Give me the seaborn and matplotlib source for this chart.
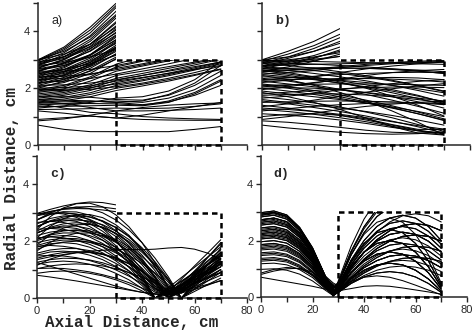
import matplotlib
matplotlib.use("Agg")
import matplotlib.pyplot as plt
import pandas as pd
import seaborn as sns
from matplotlib.patches import Polygon
from matplotlib.ticker import MultipleLocator

# ---------------- data ----------------
X_A = [0, 10, 20, 30, 40, 50, 60, 70]
A_LINES = [
    [3.00, 3.45, 4.15, 5.00], [2.95, 3.35, 3.95, 4.85], [2.90, 3.25, 3.85, 4.72],
    [3.00, 3.30, 3.80, 4.60], [2.80, 3.10, 3.65, 4.48], [2.88, 3.12, 3.55, 4.30],
    [2.70, 3.00, 3.48, 4.20], [2.92, 3.10, 3.45, 4.05], [2.60, 2.88, 3.32, 3.98],
    [2.76, 2.95, 3.30, 3.88], [2.50, 2.76, 3.18, 3.80], [2.62, 2.80, 3.15, 3.72],
    [2.40, 2.66, 3.06, 3.66], [2.66, 2.80, 3.10, 3.58], [2.30, 2.56, 2.92, 3.52],
    [2.50, 2.66, 2.96, 3.46], [2.20, 2.46, 2.82, 3.40], [2.80, 2.90, 3.10, 3.36],
    [2.36, 2.52, 2.82, 3.30], [2.10, 2.32, 2.70, 3.22], [2.55, 2.66, 2.86, 3.16],
    [2.00, 2.25, 2.62, 3.10], [2.45, 2.58, 2.90, 3.42], [2.85, 3.05, 3.40, 3.95],
    [2.15, 2.38, 2.78, 3.35], [2.25, 2.44, 2.76, 3.20], [2.05, 2.20, 2.52, 3.05],
    [2.98, 3.40, 4.05, 4.92], [2.82, 3.18, 3.72, 4.55], [2.72, 3.02, 3.55, 4.35],
    [2.58, 2.90, 3.38, 4.10], [2.45, 2.72, 3.18, 3.85], [2.35, 2.60, 3.00, 3.62],
    [2.28, 2.48, 2.85, 3.45], [2.68, 2.85, 3.18, 3.70], [3.00, 3.20, 3.55, 4.15],
    [2.18, 2.30, 2.60, 3.02],
    [1.95, 2.10, 2.40, 2.85, 3.10], [1.90, 2.05, 2.35, 2.75, 2.95, 3.15],
    [2.30, 2.35, 2.48, 2.70, 2.86, 3.04], [1.85, 1.98, 2.25, 2.60, 2.78, 2.96, 3.15],
    [2.20, 2.25, 2.34, 2.50, 2.68, 2.86, 3.05],
    [1.80, 1.90, 2.12, 2.45, 2.60, 2.76, 2.92, 3.08],
    [1.75, 1.85, 2.06, 2.35, 2.52, 2.70, 2.88, 3.05],
    [2.10, 2.12, 2.18, 2.30, 2.45, 2.60, 2.76, 2.92],
    [1.65, 1.75, 1.92, 2.20, 2.36, 2.53, 2.72, 2.93],
    [1.60, 1.68, 1.84, 2.10, 2.26, 2.44, 2.64, 2.86],
    [1.90, 1.92, 1.96, 2.05, 2.18, 2.35, 2.55, 2.78],
    [1.55, 1.62, 1.78, 2.00, 2.14, 2.30, 2.48, 2.68],
    [2.00, 2.02, 2.08, 2.25, 2.38, 2.52, 2.66, 2.80],
    [1.70, 1.80, 2.00, 2.28, 2.45, 2.63, 2.82, 3.02],
    [2.40, 2.42, 2.50, 2.65, 2.82, 3.00],
    [1.50, 1.56, 1.70, 1.92, 2.08, 2.25, 2.45, 2.66],
    [2.60, 2.60, 2.66, 2.80, 2.98],
    [1.95, 1.96, 2.02, 2.15, 2.30, 2.48, 2.68, 2.90],
    [1.50, 1.52, 1.55, 1.50, 1.42, 1.52, 1.75, 2.10],
    [1.45, 1.45, 1.46, 1.45, 1.40, 1.55, 1.85, 2.30],
    [1.40, 1.46, 1.52, 1.55, 1.50, 1.65, 1.95, 2.45],
    [1.70, 1.70, 1.68, 1.60, 1.58, 1.75, 2.10, 2.60],
    [1.35, 1.36, 1.38, 1.40, 1.38, 1.50, 1.80, 2.25],
    [1.60, 1.58, 1.55, 1.50, 1.55, 1.78, 2.18, 2.80],
    [1.30, 1.38, 1.50, 1.65, 1.70, 1.90, 2.30, 2.95],
    [1.25, 1.26, 1.28, 1.30, 1.28, 1.30, 1.36, 1.45],
    [1.55, 1.45, 1.32, 1.20, 1.20, 1.22, 1.25, 1.30],
    [1.45, 1.30, 1.15, 1.10, 1.00, 0.95, 0.92, 0.90],
    [0.90, 0.96, 1.02, 0.95, 1.05, 1.20, 1.35, 1.50],
    [0.85, 0.92, 1.05, 1.20, 1.32, 1.40, 1.45, 1.48],
    [1.20, 1.12, 1.02, 0.95, 0.90, 0.88, 0.87, 0.87],
    [0.70, 0.55, 0.47, 0.47, 0.47, 0.47, 0.55, 0.65],
]

X_B = [0, 10, 20, 30, 40, 50, 60, 70]
B_LINES = [
    [3.00, 3.30, 3.65, 4.10], [2.95, 3.20, 3.50, 3.90], [2.90, 3.10, 3.40, 3.78],
    [2.85, 3.05, 3.30, 3.65], [3.00, 3.10, 3.30, 3.58], [2.80, 2.95, 3.15, 3.45],
    [2.70, 2.85, 3.05, 3.35], [2.95, 3.00, 3.10, 3.25], [2.60, 2.75, 2.95, 3.20],
    [2.75, 2.85, 2.98, 3.12], [2.92, 2.95, 3.02, 3.12], [2.78, 2.90, 3.08, 3.30],
    [2.90, 2.88, 2.85, 2.80, 2.75, 2.68, 2.60, 2.52],
    [2.80, 2.82, 2.84, 2.86, 2.88, 2.90, 2.92, 2.94],
    [2.70, 2.62, 2.52, 2.40, 2.26, 2.10, 1.92, 1.72],
    [2.60, 2.65, 2.68, 2.70, 2.70, 2.68, 2.64, 2.58],
    [2.55, 2.45, 2.32, 2.18, 2.02, 1.84, 1.64, 1.42],
    [2.50, 2.55, 2.62, 2.72, 2.80, 2.86, 2.90, 2.92],
    [2.40, 2.38, 2.34, 2.28, 2.20, 2.10, 1.98, 1.84],
    [2.35, 2.25, 2.12, 1.96, 1.78, 1.58, 1.36, 1.12],
    [2.30, 2.36, 2.42, 2.48, 2.52, 2.55, 2.56, 2.55],
    [2.25, 2.15, 2.05, 1.95, 1.85, 1.75, 1.65, 1.55],
    [2.20, 2.28, 2.40, 2.55, 2.68, 2.78, 2.86, 2.92],
    [2.15, 2.05, 1.92, 1.76, 1.58, 1.38, 1.16, 0.92],
    [2.10, 2.12, 2.14, 2.15, 2.15, 2.14, 2.12, 2.10],
    [2.00, 1.90, 1.78, 1.64, 1.48, 1.30, 1.10, 0.88],
    [1.95, 2.05, 2.18, 2.32, 2.45, 2.55, 2.62, 2.66],
    [1.90, 1.80, 1.70, 1.60, 1.48, 1.34, 1.18, 1.00],
    [1.80, 1.86, 1.92, 1.98, 2.02, 2.04, 2.04, 2.02],
    [1.70, 1.60, 1.48, 1.34, 1.16, 0.96, 0.72, 0.48],
    [1.65, 1.72, 1.82, 1.94, 2.06, 2.16, 2.24, 2.30],
    [1.60, 1.50, 1.40, 1.30, 1.18, 1.04, 0.88, 0.70],
    [1.50, 1.52, 1.54, 1.55, 1.54, 1.52, 1.48, 1.42],
    [1.40, 1.30, 1.18, 1.04, 0.88, 0.70, 0.52, 0.40],
    [1.35, 1.45, 1.58, 1.72, 1.86, 1.98, 2.08, 2.16],
    [1.30, 1.25, 1.18, 1.08, 0.96, 0.82, 0.68, 0.56],
    [1.20, 1.28, 1.36, 1.42, 1.46, 1.48, 1.48, 1.46],
    [1.10, 1.05, 0.98, 0.88, 0.76, 0.62, 0.50, 0.42],
    [0.90, 1.00, 1.12, 1.25, 1.36, 1.44, 1.50, 1.54],
    [0.85, 0.80, 0.72, 0.62, 0.52, 0.45, 0.42, 0.45],
    [0.70, 0.60, 0.52, 0.45, 0.40, 0.38, 0.40, 0.46],
    [2.45, 2.30, 2.10, 1.85, 1.55, 1.20, 0.80, 0.35],
    [2.65, 2.55, 2.40, 2.22, 2.00, 1.72, 1.40, 1.02],
    [2.75, 2.70, 2.62, 2.52, 2.40, 2.25, 2.08, 1.88],
    [1.85, 1.70, 1.50, 1.25, 0.95, 0.65, 0.42, 0.35],
    [1.00, 1.08, 1.10, 1.05, 0.92, 0.72, 0.55, 0.55],
    [2.98, 2.96, 2.94, 2.92, 2.90, 2.88, 2.86, 2.84],
    [2.62, 2.50, 2.38, 2.26, 2.12, 1.95, 1.75, 1.50],
    [2.05, 2.10, 2.20, 2.30, 2.36, 2.38, 2.36, 2.30],
    [2.88, 2.80, 2.70, 2.58, 2.44, 2.28, 2.10, 1.90],
    [2.68, 2.70, 2.72, 2.72, 2.70, 2.66, 2.60, 2.52],
    [2.48, 2.40, 2.30, 2.18, 2.05, 1.90, 1.72, 1.52],
    [2.28, 2.30, 2.32, 2.34, 2.34, 2.32, 2.28, 2.22],
    [2.12, 2.00, 1.86, 1.70, 1.52, 1.32, 1.10, 0.86],
    [1.75, 1.78, 1.80, 1.80, 1.76, 1.70, 1.60, 1.48],
    [1.55, 1.45, 1.32, 1.18, 1.02, 0.84, 0.64, 0.42],
    [2.58, 2.62, 2.68, 2.76, 2.84, 2.90, 2.95, 2.98],
    [1.25, 1.18, 1.08, 0.96, 0.82, 0.66, 0.50, 0.36],
    [2.00, 2.02, 2.00, 1.94, 1.84, 1.70, 1.52, 1.30],
]

X_C = [0, 5, 10, 15, 20, 25, 30, 35, 40, 45, 50, 55, 60, 65, 70]
C_LINES = [
    [2.98, 3.12, 3.24, 3.33, 3.38, 3.36, 3.28],
    [2.90, 3.04, 3.14, 3.20, 3.22, 3.20, 3.14],
    [2.95, 3.05, 3.12, 3.15, 3.14, 3.10, 3.04],
    [2.41, 2.86, 3.17, 3.32, 3.34, 3.21, 2.93, 2.51, 1.95, 1.24, 0.38, 0.20, 0.53, 0.86, 1.20],
    [2.75, 3.00, 3.15, 3.20, 3.15, 3.00, 2.75, 2.40, 1.95, 1.40, 0.75, 0.00, 0.46, 0.94, 1.40],
    [2.75, 2.95, 3.04, 3.03, 2.92, 2.69, 2.37, 1.93, 1.39, 0.75, 0.00, 0.43, 0.85, 1.28, 1.70],
    [2.75, 2.94, 3.00, 2.94, 2.75, 2.45, 2.02, 1.47, 0.80, 0.00, 0.30, 0.60, 0.90, 1.20, 1.50],
    [2.96, 3.00, 2.96, 2.84, 2.63, 2.35, 1.99, 1.54, 1.01, 0.41, 0.21, 0.66, 1.13, 1.58, 2.05],
    [2.49, 2.72, 2.85, 2.90, 2.85, 2.72, 2.49, 2.18, 1.77, 1.27, 0.68, 0.00, 0.40, 0.80, 1.20],
    [2.12, 2.52, 2.79, 2.93, 2.94, 2.83, 2.58, 2.21, 1.71, 1.09, 0.34, 0.27, 0.70, 1.15, 1.60],
    [2.52, 2.70, 2.79, 2.78, 2.68, 2.47, 2.17, 1.78, 1.28, 0.69, 0.00, 0.35, 0.70, 1.05, 1.40],
    [2.52, 2.70, 2.75, 2.70, 2.52, 2.24, 1.85, 1.35, 0.73, 0.00, 0.22, 0.44, 0.66, 0.88, 1.10],
    [2.66, 2.70, 2.66, 2.55, 2.37, 2.12, 1.79, 1.39, 0.91, 0.36, 0.15, 0.48, 0.83, 1.16, 1.50],
    [2.28, 2.49, 2.61, 2.65, 2.61, 2.49, 2.28, 1.99, 1.61, 1.16, 0.62, 0.00, 0.58, 1.17, 1.75],
    [1.87, 2.22, 2.46, 2.58, 2.59, 2.49, 2.28, 1.95, 1.51, 0.96, 0.30, 0.17, 0.44, 0.72, 1.00],
    [2.30, 2.46, 2.54, 2.53, 2.44, 2.25, 1.98, 1.62, 1.17, 0.63, 0.00, 0.33, 0.65, 0.98, 1.30],
    [2.30, 2.45, 2.50, 2.45, 2.30, 2.04, 1.68, 1.23, 0.66, 0.00, 0.36, 0.72, 1.08, 1.44, 1.80],
    [2.42, 2.45, 2.42, 2.32, 2.15, 1.92, 1.62, 1.26, 0.83, 0.33, 0.13, 0.42, 0.72, 1.00, 1.30],
    [2.06, 2.25, 2.36, 2.40, 2.36, 2.25, 2.06, 1.80, 1.46, 1.05, 0.56, 0.00, 0.30, 0.60, 0.90],
    [2.07, 2.22, 2.29, 2.29, 2.20, 2.03, 1.78, 1.46, 1.05, 0.57, 0.00, 0.40, 0.80, 1.20, 1.60],
    [1.66, 1.96, 2.17, 2.28, 2.29, 2.20, 2.01, 1.73, 1.34, 0.85, 0.26, 0.23, 0.59, 0.97, 1.35],
    [2.02, 2.16, 2.20, 2.16, 2.02, 1.80, 1.48, 1.08, 0.58, 0.00, 0.24, 0.48, 0.72, 0.96, 1.20],
    [2.12, 2.15, 2.12, 2.03, 1.89, 1.69, 1.42, 1.10, 0.72, 0.29, 0.17, 0.54, 0.94, 1.31, 1.70],
    [1.85, 1.98, 2.04, 2.04, 1.96, 1.81, 1.59, 1.30, 0.94, 0.50, 0.00, 0.25, 0.50, 0.75, 1.00],
    [1.72, 1.88, 1.97, 2.00, 1.97, 1.88, 1.72, 1.50, 1.22, 0.88, 0.47, 0.00, 0.50, 1.00, 1.50],
    [1.79, 1.91, 1.95, 1.91, 1.79, 1.59, 1.31, 0.96, 0.52, 0.00, 0.29, 0.58, 0.87, 1.16, 1.45],
    [1.82, 1.85, 1.82, 1.75, 1.62, 1.45, 1.22, 0.95, 0.62, 0.25, 0.11, 0.35, 0.61, 0.85, 1.10],
    [1.58, 1.69, 1.74, 1.74, 1.67, 1.55, 1.36, 1.11, 0.80, 0.43, 0.00, 0.39, 0.78, 1.16, 1.55],
    [1.51, 1.62, 1.65, 1.62, 1.51, 1.35, 1.11, 0.81, 0.44, 0.00, 0.18, 0.36, 0.54, 0.72, 0.90],
    [1.15, 1.37, 1.51, 1.59, 1.60, 1.53, 1.40, 1.20, 0.93, 0.59, 0.18, 0.21, 0.55, 0.90, 1.25],
    [1.48, 1.50, 1.48, 1.42, 1.32, 1.18, 0.99, 0.77, 0.51, 0.20, 0.14, 0.45, 0.77, 1.08, 1.40],
    [1.26, 1.35, 1.40, 1.39, 1.34, 1.24, 1.09, 0.89, 0.64, 0.34, 0.00, 0.20, 0.40, 0.60, 0.80],
    [1.19, 1.27, 1.30, 1.27, 1.19, 1.06, 0.87, 0.64, 0.34, 0.00, 0.24, 0.48, 0.72, 0.96, 1.20],
    [1.03, 1.13, 1.18, 1.20, 1.18, 1.13, 1.03, 0.90, 0.73, 0.53, 0.28, 0.00, 0.23, 0.47, 0.70],
    [1.04, 1.05, 1.04, 0.99, 0.92, 0.82, 0.70, 0.54, 0.35, 0.14, 0.09, 0.29, 0.50, 0.69, 0.90],
    [0.87, 0.93, 0.95, 0.93, 0.87, 0.78, 0.64, 0.47, 0.25, 0.00, 0.12, 0.24, 0.36, 0.48, 0.60],
    [0.80, 0.74, 0.67, 0.60, 0.52, 0.44, 0.36, 0.28, 0.20, 0.14, 0.12, 0.18, 0.30, 0.45, 0.62],
    [1.25, 1.12, 0.98, 0.84, 0.70, 0.56, 0.42, 0.30, 0.20, 0.14, 0.16, 0.30, 0.52, 0.80, 1.10],
    [1.35, 1.45, 1.53, 1.60, 1.65, 1.68, 1.70, 1.71, 1.70, 1.72, 1.76, 1.78, 1.72, 1.58, 1.35],
    [2.61, 2.80, 2.89, 2.88, 2.77, 2.56, 2.25, 1.84, 1.33, 0.71, 0.00, 0.48, 0.95, 1.43, 1.90],
    [2.36, 2.58, 2.71, 2.75, 2.71, 2.58, 2.36, 2.06, 1.67, 1.20, 0.64, 0.00, 0.33, 0.67, 1.00],
    [2.90, 2.98, 3.00, 2.96, 2.86, 2.70, 2.48, 2.16, 1.70, 1.10, 0.40, 0.32, 0.88, 1.42, 1.95],
    [2.20, 2.32, 2.38, 2.38, 2.31, 2.17, 1.96, 1.66, 1.26, 0.76, 0.18, 0.32, 0.75, 1.18, 1.62],
    [1.95, 2.05, 2.10, 2.09, 2.02, 1.88, 1.66, 1.36, 0.98, 0.52, 0.05, 0.30, 0.62, 0.95, 1.28],
    [1.40, 1.52, 1.60, 1.63, 1.62, 1.55, 1.42, 1.22, 0.96, 0.62, 0.22, 0.18, 0.52, 0.88, 1.22],
]

X_D = [0, 5, 10, 15, 20, 25, 28, 30, 35, 40, 45, 50, 55, 60, 65, 70]
D_LINES = [
    [2.99, 3.05, 2.91, 2.47, 1.75, 0.74, 0.05, 0.57, 1.80, 2.76, 3.45],
    [2.94, 3.00, 2.86, 2.43, 1.72, 0.73, 0.10, 0.50, 1.58, 2.42, 3.02],
    [2.84, 2.90, 2.76, 2.35, 1.66, 0.70, 0.30, 0.47, 1.49, 2.28, 2.85, 3.19],
    [2.74, 2.80, 2.67, 2.27, 1.61, 0.68, 0.12, 0.36, 1.15, 1.80, 2.30, 2.66, 2.88, 2.95, 2.88, 2.66],
    [2.65, 2.70, 2.57, 2.19, 1.55, 0.66, 0.06, 0.41, 1.31, 2.00, 2.50, 2.80, 2.90, 2.80, 2.50, 2.00],
    [2.94, 3.00, 2.86, 2.43, 1.72, 0.73, 0.40, 0.49, 1.50, 2.22, 2.65, 2.80, 2.65, 2.22, 1.50, 0.49],
    [2.55, 2.60, 2.48, 2.11, 1.49, 0.63, 0.04, 0.39, 1.22, 1.87, 2.33, 2.61, 2.70, 2.61, 2.33, 1.87],
    [2.45, 2.50, 2.38, 2.03, 1.44, 0.61, 0.10, 0.31, 1.01, 1.58, 2.03, 2.35, 2.54, 2.60, 2.54, 2.35],
    [2.35, 2.40, 2.29, 1.94, 1.38, 0.58, 0.07, 0.36, 1.13, 1.73, 2.16, 2.42, 2.50, 2.42, 2.16, 1.73],
    [2.84, 2.90, 2.76, 2.35, 1.66, 0.70, 0.35, 0.42, 1.28, 1.90, 2.28, 2.40, 2.28, 1.90, 1.28, 0.42],
    [2.25, 2.30, 2.19, 1.86, 1.32, 0.56, 0.05, 0.33, 1.04, 1.59, 1.98, 2.22, 2.30, 2.22, 1.98, 1.59],
    [2.16, 2.20, 2.10, 1.78, 1.26, 0.53, 0.09, 0.27, 0.86, 1.34, 1.72, 1.98, 2.15, 2.20, 2.15, 1.98],
    [2.74, 2.80, 2.67, 2.27, 1.61, 0.68, 0.22, 0.30, 0.95, 1.45, 1.81, 2.03, 2.10, 2.03, 1.81, 1.45],
    [2.06, 2.10, 2.00, 1.70, 1.21, 0.51, 0.11, 0.35, 1.07, 1.59, 1.90, 2.00, 1.90, 1.59, 1.07, 0.35],
    [1.96, 2.00, 1.91, 1.62, 1.15, 0.49, 0.06, 0.27, 0.86, 1.31, 1.64, 1.84, 1.90, 1.84, 1.64, 1.31],
    [2.65, 2.70, 2.57, 2.19, 1.55, 0.66, 0.45, 0.22, 0.70, 1.10, 1.40, 1.62, 1.76, 1.80, 1.76, 1.62],
    [1.86, 1.90, 1.81, 1.54, 1.09, 0.46, 0.04, 0.24, 0.77, 1.17, 1.47, 1.64, 1.70, 1.64, 1.47, 1.17],
    [1.76, 1.80, 1.72, 1.46, 1.03, 0.44, 0.09, 0.28, 0.86, 1.27, 1.52, 1.60, 1.52, 1.27, 0.86, 0.28],
    [2.45, 2.50, 2.38, 2.03, 1.44, 0.61, 0.02, 0.21, 0.68, 1.04, 1.29, 1.45, 1.50, 1.45, 1.29, 1.04],
    [1.67, 1.70, 1.62, 1.38, 0.98, 0.41, 0.08, 0.17, 0.55, 0.85, 1.09, 1.26, 1.37, 1.40, 1.37, 1.26],
    [1.57, 1.60, 1.52, 1.30, 0.92, 0.39, 0.12, 0.19, 0.59, 0.90, 1.12, 1.26, 1.30, 1.26, 1.12, 0.90],
    [2.25, 2.30, 2.19, 1.86, 1.32, 0.56, 0.10, 0.21, 0.64, 0.95, 1.14, 1.20, 1.14, 0.95, 0.64, 0.21],
    [1.47, 1.50, 1.43, 1.22, 0.86, 0.36, 0.05, 0.16, 0.50, 0.76, 0.95, 1.06, 1.10, 1.06, 0.95, 0.76],
    [1.37, 1.40, 1.33, 1.13, 0.80, 0.34, 0.07, 0.16, 0.48, 0.71, 0.85, 0.90, 0.85, 0.71, 0.48, 0.16],
    [2.55, 2.60, 2.48, 2.11, 1.49, 0.63, 0.28, 0.51, 1.62, 2.49, 3.11],
    [2.16, 2.20, 2.10, 1.78, 1.26, 0.53, 0.13, 0.41, 1.31, 2.00, 2.50, 2.80, 2.90, 2.80, 2.50, 2.00],
    [1.96, 2.00, 1.91, 1.62, 1.15, 0.49, 0.04, 0.42, 1.28, 1.90, 2.28, 2.40, 2.28, 1.90, 1.28, 0.42],
    [1.27, 1.30, 1.24, 1.05, 0.75, 0.32, 0.06, 0.35, 1.07, 1.59, 1.90, 2.00, 1.90, 1.59, 1.07, 0.35],
    [1.18, 1.20, 1.14, 0.97, 0.69, 0.29, 0.10, 0.28, 0.86, 1.27, 1.52, 1.60, 1.52, 1.27, 0.86, 0.28],
    [0.98, 1.00, 0.95, 0.81, 0.57, 0.24, 0.05, 0.21, 0.64, 0.95, 1.14, 1.20, 1.14, 0.95, 0.64, 0.21],
    [2.35, 2.40, 2.29, 1.94, 1.38, 0.58, 0.03, 0.31, 1.01, 1.58, 2.03, 2.35, 2.54, 2.60, 2.54, 2.35],
    [2.06, 2.10, 2.00, 1.70, 1.21, 0.51, 0.08, 0.27, 0.86, 1.31, 1.64, 1.84, 1.90, 1.84, 1.64, 1.31],
    [1.86, 1.90, 1.81, 1.54, 1.09, 0.46, 0.11, 0.27, 0.86, 1.34, 1.72, 1.98, 2.15, 2.20, 2.15, 1.98],
    [2.74, 2.80, 2.67, 2.27, 1.61, 0.68, 0.38, 0.21, 0.68, 1.04, 1.29, 1.45, 1.50, 1.45, 1.29, 1.04],
    [2.99, 3.05, 2.91, 2.47, 1.75, 0.74, 0.50, 0.39, 1.22, 1.87, 2.33, 2.61, 2.70, 2.61, 2.33, 1.87],
    [0.70, 0.62, 0.54, 0.46, 0.38, 0.28, 0.20, 0.22, 0.30, 0.38, 0.40, 0.38, 0.32, 0.25, 0.18, 0.10],
    [0.85, 0.98, 1.05, 1.00, 0.80, 0.45, 0.15, 0.16, 0.48, 0.71, 0.85, 0.90, 0.85, 0.71, 0.48, 0.16],
    [0.80, 0.92, 1.00, 1.02, 0.88, 0.55, 0.18, 0.30, 0.55, 0.70, 0.75, 0.70, 0.58, 0.42, 0.25, 0.08],
    [2.90, 2.98, 2.85, 2.42, 1.71, 0.72, 0.06, 0.35, 1.07, 1.59, 1.90, 2.00, 1.90, 1.59, 1.07, 0.35],
    [2.30, 2.35, 2.24, 1.90, 1.35, 0.57, 0.07, 0.33, 1.04, 1.59, 1.98, 2.22, 2.30, 2.22, 1.98, 1.59],
    [1.72, 1.75, 1.67, 1.42, 1.00, 0.43, 0.09, 0.22, 0.70, 1.10, 1.40, 1.62, 1.76, 1.80, 1.76, 1.62],
    [2.60, 2.65, 2.53, 2.15, 1.52, 0.64, 0.11, 0.47, 1.49, 2.28, 2.85, 3.19],
    [2.89, 2.95, 2.81, 2.39, 1.69, 0.72, 0.25, 0.36, 1.13, 1.73, 2.16, 2.42, 2.50, 2.42, 2.16, 1.73],
    [2.40, 2.45, 2.33, 1.98, 1.41, 0.60, 0.18, 0.27, 0.86, 1.34, 1.72, 1.98, 2.15, 2.20, 2.15, 1.98],
    [2.11, 2.15, 2.05, 1.74, 1.23, 0.52, 0.30, 0.51, 1.62, 2.49, 3.11],
    [1.81, 1.85, 1.76, 1.50, 1.06, 0.45, 0.22, 0.28, 0.86, 1.27, 1.52, 1.60, 1.52, 1.27, 0.86, 0.28],
    [2.70, 2.75, 2.62, 2.23, 1.58, 0.67, 0.35, 0.33, 1.04, 1.59, 1.98, 2.22, 2.30, 2.22, 1.98, 1.59],
    [1.52, 1.55, 1.48, 1.26, 0.89, 0.38, 0.15, 0.21, 0.68, 1.04, 1.29, 1.45, 1.50, 1.45, 1.29, 1.04],
    [2.21, 2.25, 2.14, 1.82, 1.29, 0.55, 0.26, 0.21, 0.64, 0.95, 1.14, 1.20, 1.14, 0.95, 0.64, 0.21],
    [2.94, 3.00, 2.86, 2.43, 1.72, 0.73, 0.40, 0.17, 0.55, 0.85, 1.09, 1.26, 1.37, 1.40, 1.37, 1.26],
    [1.32, 1.35, 1.29, 1.09, 0.77, 0.33, 0.20, 0.31, 1.01, 1.58, 2.03, 2.35, 2.54, 2.60, 2.54, 2.35],
]

PANEL_LABELS = ["a)", "b)", "c)", "d)"]
X_TICK_LABELS = ["0", "20", "40", "60", "80"]
Y_TICK_LABELS = ["0", "2", "4"]
BOX_X = [30, 30, 70, 70, 30]
BOX_Y = [0, 3, 3, 0, 0]


def long_form(xs, lines):
    rows = []
    for i, ys in enumerate(lines):
        for x, y in zip(xs, ys):
            rows.append((i, x, y))
    return pd.DataFrame(rows, columns=["traj", "x", "y"])


sns.set_style("ticks")
plt.rcParams["font.family"] = ["Liberation Sans", "DejaVu Sans"]

fig = plt.figure(figsize=(4.74, 3.30), dpi=100)
W, H = 474, 330
panels = [
    (38, 247, 3, 145),
    (262, 470, 3, 145),
    (37, 247, 156, 298),
    (261, 467, 156, 297),
]
datasets = [(X_A, A_LINES), (X_B, B_LINES), (X_C, C_LINES), (X_D, D_LINES)]

for k, ((x0, x1, y0, y1), (xs, lines)) in enumerate(zip(panels, datasets)):
    ax = fig.add_axes([x0 / W, 1 - y1 / H, (x1 - x0) / W, (y1 - y0) / H])
    df = long_form(xs, lines)
    sns.lineplot(data=df, x="x", y="y", units="traj", estimator=None,
                 color="black", lw=0.75, ax=ax, legend=False, sort=False)
    clip = Polygon([(-2, -0.3), (-2, 5.5), (30, 5.5), (30, 3), (72, 3), (72, -0.3)],
                   closed=True, transform=ax.transData)
    for ln in ax.lines:
        ln.set_clip_path(clip)
    ax.plot(BOX_X, BOX_Y, color="black", lw=1.8, ls=(0, (2.2, 1.6)),
            clip_on=False, zorder=5)
    ax.set_xlim(0, 80)
    ax.set_ylim(0, 5)
    ax.set_xlabel("")
    ax.set_ylabel("")
    sns.despine(ax=ax)
    for s in ("left", "bottom"):
        ax.spines[s].set_linewidth(1.1)
    ax.set_xticks([0, 20, 40, 60, 80])
    ax.set_yticks([0, 2, 4])
    ax.xaxis.set_minor_locator(MultipleLocator(10))
    ax.yaxis.set_minor_locator(MultipleLocator(1))
    ax.tick_params(which="both", direction="out", length=3.5, width=1.0,
                   labelsize=8, pad=2)
    if k >= 2:
        ax.set_xticklabels(X_TICK_LABELS)
    else:
        ax.tick_params(labelbottom=False)
    if k == 1:
        ax.tick_params(labelleft=False)
    else:
        ax.set_yticklabels(Y_TICK_LABELS)
    if k == 0:
        ax.text(5.0, 4.35, PANEL_LABELS[k], fontsize=9, va="center", ha="left",
                family="Liberation Sans")
    else:
        ax.text(5.0, 4.35, PANEL_LABELS[k], fontsize=9.5, va="center", ha="left",
                family="Liberation Mono", weight="bold")

fig.text(0.024, 0.46, "Radial Distance, cm", rotation=90, ha="center", va="center",
         family="Liberation Mono", weight="bold", fontsize=11.5)
fig.text(0.277, 0.022, "Axial Distance, cm", ha="center", va="center",
         family="Liberation Mono", weight="bold", fontsize=11.5)

fig.savefig("out.png", dpi=100)
